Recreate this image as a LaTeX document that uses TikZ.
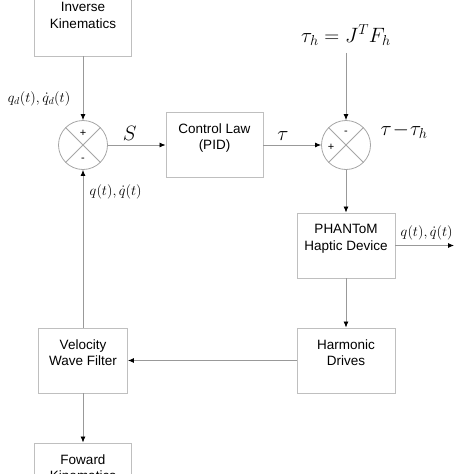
\documentclass[tikz,border=0pt]{standalone}
\usepackage{amsmath}
\usepackage{fontspec}
\setmainfont{Liberation Sans}
\usetikzlibrary{arrows.meta}

\begin{document}
\begin{tikzpicture}[x=1pt,y=1pt,
  block/.style = {draw=black!25, line width=0.9pt, minimum width=97pt, minimum height=65pt, align=center, font=\fontsize{13.5}{16.2}\selectfont},
  sum/.style = {draw=black!35, line width=0.8pt, circle, minimum size=49pt, inner sep=0pt},
  sign/.style = {font=\fontsize{11}{12}\selectfont, inner sep=0pt},
  arr/.style = {draw=black!40, line width=0.8pt, -{Latex[length=6pt,width=5pt,color=black]}},
  lbl/.style = {font=\fontsize{14.5}{17}\selectfont},
  big/.style = {font=\fontsize{21}{24}\selectfont}]
\useasboundingbox (0,0) rectangle (474,-474);
\node[block] (ik) at (83,-23.5) {Inverse\\Kinematics\\ \mbox{}};
\node[sum] (s1) [below of=ik, node distance=121.5pt] {};
\node[block] (law) [right of=s1, node distance=131.5pt] {Control Law\\(PID)\\ \mbox{}};
\node[sum] (s2) [right of=law, node distance=131.5pt] {};
\node[big] (th) [above of=s2, node distance=110pt] {$\tau_h = J^T F_h$};
\node[big] (diff) [right of=s2, node distance=58pt, yshift=14pt] {$\tau\!-\!\tau_h$};
\node[block, minimum width=98pt] (hap) [below of=s2, node distance=100.5pt] {PHANToM\\Haptic Device\\ \mbox{}};
\coordinate[right of=hap, node distance=108pt] (out);
\node[block, minimum width=98pt] (hd) [below of=hap, node distance=115pt] {Harmonic\\Drives\\ \mbox{}};
\node[block, minimum width=89pt] (vwf) [left of=hd, node distance=263pt] {Velocity\\Wave Filter\\ \mbox{}};
\node[block] (fk) [below of=vwf, node distance=115pt] {Foward\\Kinematics\\ \mbox{}};
% crosses and signs of the summing points
\foreach \s in {s1,s2} {
  \draw[draw=black!35, line width=0.8pt] (\s.north west) -- (\s.south east);
  \draw[draw=black!35, line width=0.8pt] (\s.north east) -- (\s.south west);
}
\node[sign] (p1) at ([yshift=12pt]s1.center) {+};
\node[sign] (m1) at ([yshift=-15pt]s1.center) {-};
\node[sign] (m2) at ([yshift=12pt]s2.center) {-};
\node[sign] (p2) at ([xshift=-15pt,yshift=-2pt]s2.center) {+};
% signals
\draw[arr] (ik) -- node[lbl, left=9pt, pos=0.66] {$q_d(t),\dot{q}_d(t)$} (s1);
\draw[arr] (s1) -- node[big, above=1pt, pos=0.38] {$S$} (law);
\draw[arr] (law) -- node[big, above=1pt, pos=0.34] {$\tau$} (s2);
\draw[arr, shorten <=4pt] (th) -- (s2);
\draw[arr] (s2) -- (hap);
\draw[arr] (hap) -- node[lbl, above=2pt, xshift=2pt] {$q(t),\dot{q}(t)$} (out);
\draw[arr] (hap) -- (hd);
\draw[arr] (hd) -- (vwf);
\draw[arr] (vwf) -- node[lbl, right=3pt, pos=0.86] {$q(t),\dot{q}(t)$} (s1);
\draw[arr] (vwf) -- (fk);
\end{tikzpicture}
\end{document}
